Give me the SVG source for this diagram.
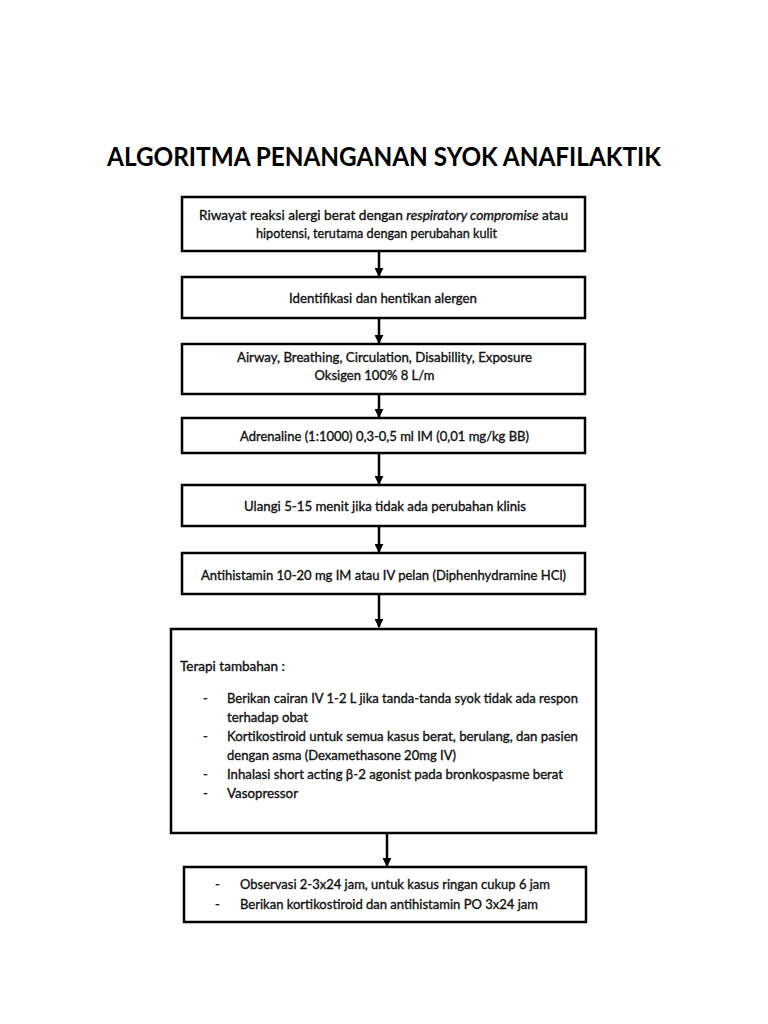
<svg xmlns="http://www.w3.org/2000/svg" width="768" height="1024" viewBox="0 0 768 1024">
<defs>
<style>
.box{fill:#fff;stroke:#000;stroke-width:2.5}
.t{font-family:Lato,"Open Sans","Liberation Sans",sans-serif;font-size:13px;fill:#111;stroke:#111;stroke-width:0.35}
.c{text-anchor:middle}
.title{font-family:Lato,"Open Sans","Liberation Sans",sans-serif;font-size:27px;font-weight:bold;fill:#000;text-anchor:middle}
.conn{stroke:#000;stroke-width:2.5;fill:none;marker-end:url(#ah)}
</style>
<marker id="ah" viewBox="0 0 10 10" refX="9" refY="5" markerWidth="3.6" markerHeight="3.6" orient="auto" markerUnits="strokeWidth">
<path d="M0,0 L10,5 L0,10 Z" fill="#000"/>
</marker>
</defs>
<rect width="768" height="1024" fill="#fff"/>
<text class="title" x="384" y="166" textLength="554" lengthAdjust="spacingAndGlyphs">ALGORITMA PENANGANAN SYOK ANAFILAKTIK</text>

<g id="connectors">
<line class="conn" x1="379" y1="252" x2="379" y2="276"/>
<line class="conn" x1="379" y1="319" x2="379" y2="343"/>
<line class="conn" x1="379" y1="395" x2="379" y2="417"/>
<line class="conn" x1="379" y1="454" x2="379" y2="484"/>
<line class="conn" x1="379" y1="527" x2="379" y2="552"/>
<line class="conn" x1="379" y1="595" x2="379" y2="627"/>
<line class="conn" x1="387" y1="834" x2="387" y2="866"/>
</g>

<g id="n1">
<rect class="box" x="182" y="197" width="403" height="54"/>
<text class="t" x="199" y="220" textLength="369" lengthAdjust="spacingAndGlyphs">Riwayat reaksi alergi berat dengan <tspan font-style="italic">respiratory compromise</tspan> atau</text>
<text class="t c" x="376.5" y="238" textLength="241" lengthAdjust="spacingAndGlyphs">hipotensi, terutama dengan perubahan kulit</text>
</g>

<g id="n2">
<rect class="box" x="182" y="277" width="403" height="41"/>
<text class="t c" x="383" y="303" textLength="188" lengthAdjust="spacingAndGlyphs">Identifikasi dan hentikan alergen</text>
</g>

<g id="n3">
<rect class="box" x="182" y="344" width="403" height="50"/>
<text class="t c" x="384.5" y="362" textLength="295" lengthAdjust="spacingAndGlyphs">Airway, Breathing, Circulation, Disabillity, Exposure</text>
<text class="t c" x="374.5" y="380" font-size="14.5">Oksigen 100% 8 L/m</text>
</g>

<g id="n4">
<rect class="box" x="182" y="418" width="403" height="35"/>
<text class="t c" x="384.5" y="441" textLength="289" lengthAdjust="spacingAndGlyphs">Adrenaline (1:1000) 0,3-0,5 ml IM (0,01 mg/kg BB)</text>
</g>

<g id="n5">
<rect class="box" x="182" y="485" width="403" height="41"/>
<text class="t c" x="385" y="511" textLength="282" lengthAdjust="spacingAndGlyphs">Ulangi 5-15 menit jika tidak ada perubahan klinis</text>
</g>

<g id="n6">
<rect class="box" x="182" y="553" width="403" height="41"/>
<text class="t c" x="383.5" y="580" textLength="365" lengthAdjust="spacingAndGlyphs">Antihistamin 10-20 mg IM atau IV pelan (Diphenhydramine HCl)</text>
</g>

<g id="n7">
<rect class="box" x="171" y="629" width="425" height="204"/>
<text class="t" x="180" y="671" textLength="105" lengthAdjust="spacingAndGlyphs">Terapi tambahan :</text>
<text class="t" x="203" y="703">-</text>
<text class="t" x="227" y="703" textLength="351" lengthAdjust="spacingAndGlyphs">Berikan cairan IV 1-2 L jika tanda-tanda syok tidak ada respon</text>
<text class="t" x="227" y="722" textLength="81" lengthAdjust="spacingAndGlyphs">terhadap obat</text>
<text class="t" x="203" y="741">-</text>
<text class="t" x="227" y="741" textLength="351" lengthAdjust="spacingAndGlyphs">Kortikostiroid untuk semua kasus berat, berulang, dan pasien</text>
<text class="t" x="227" y="760" textLength="229" lengthAdjust="spacingAndGlyphs">dengan asma (Dexamethasone 20mg IV)</text>
<text class="t" x="203" y="779">-</text>
<text class="t" x="227" y="779" textLength="336" lengthAdjust="spacingAndGlyphs">Inhalasi short acting β-2 agonist pada bronkospasme berat</text>
<text class="t" x="203" y="798">-</text>
<text class="t" x="227" y="798" textLength="71" lengthAdjust="spacingAndGlyphs">Vasopressor</text>
</g>

<g id="n8">
<rect class="box" x="184" y="867" width="402" height="55"/>
<text class="t" x="215" y="889">-</text>
<text class="t" x="240" y="889" textLength="310" lengthAdjust="spacingAndGlyphs">Observasi 2-3x24 jam, untuk kasus ringan cukup 6 jam</text>
<text class="t" x="215" y="909">-</text>
<text class="t" x="240" y="909" textLength="298" lengthAdjust="spacingAndGlyphs">Berikan kortikostiroid dan antihistamin PO 3x24 jam</text>
</g>
</svg>
